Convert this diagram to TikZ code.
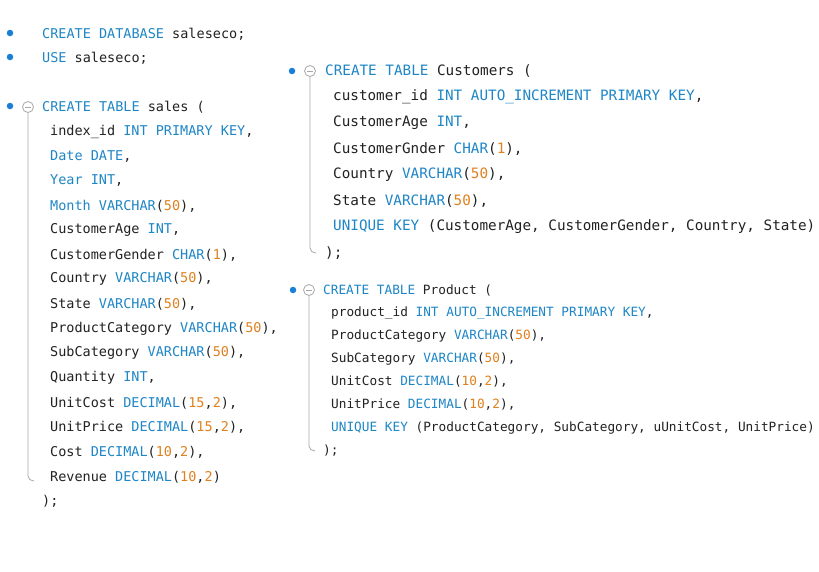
\documentclass[tikz,border=0pt]{standalone}
\usepackage{fontspec}
\setmonofont{DejaVu Sans Mono}
\definecolor{kw}{HTML}{1E86C6}
\definecolor{nm}{HTML}{E0801E}
\definecolor{tx}{HTML}{222222}
\definecolor{dot}{HTML}{1A7FD6}
\definecolor{fold}{HTML}{A8A8A8}
\newcommand{\kw}[1]{\textcolor{kw}{#1}}
\newcommand{\nm}[1]{\textcolor{nm}{#1}}
\begin{document}
\begin{tikzpicture}[x=1pt,y=-1pt,
  ln/.style={anchor=west,inner sep=0pt,text=tx,font=\ttfamily},
  sa/.style={ln,font=\ttfamily\fontsize{13.5}{14}\selectfont},
  cu/.style={ln,font=\ttfamily\fontsize{14.3}{15}\selectfont},
  pr/.style={ln,font=\ttfamily\fontsize{12.75}{14}\selectfont},
  bp/.style={circle,fill=dot,inner sep=0pt,minimum size=6.5pt},
  fi/.style={circle,draw=fold,line width=0.8pt,inner sep=0pt,minimum size=11pt,
    path picture={\draw[fold,line width=0.8pt] ([xshift=-3pt]path picture bounding box.center)--([xshift=3pt]path picture bounding box.center);}},
  fl/.style={draw=fold,line width=0.8pt}]
\useasboundingbox[fill=white] (0,0) rectangle (819,571);
% header
\node[bp] (d1) at (10,33) {};
\node[bp] (d2) at (10,57) {};
\node[sa] (h1) at (42,34) {\kw{CREATE DATABASE} saleseco;};
\node[sa] (h2) at (42,58) {\kw{USE} saleseco;};
% sales
\node[bp] (d3) at (10,106) {};
\node[fi] (f3) at (28,107) {};
\node[sa] (s0) at (42,107) {\kw{CREATE TABLE} sales (};
\node[sa] (s1) at (50,132) {index\_id \kw{INT PRIMARY KEY},};
\node[sa] (s2) at (50,157) {\kw{Date DATE},};
\node[sa] (s3) at (50,181) {\kw{Year INT},};
\node[sa] (s4) at (50,206) {\kw{Month VARCHAR}(\nm{50}),};
\node[sa] (s5) at (50,230) {CustomerAge \kw{INT},};
\node[sa] (s6) at (50,255) {CustomerGender \kw{CHAR}(\nm{1}),};
\node[sa] (s7) at (50,279) {Country \kw{VARCHAR}(\nm{50}),};
\node[sa] (s8) at (50,304) {State \kw{VARCHAR}(\nm{50}),};
\node[sa] (s9) at (50,329) {ProductCategory \kw{VARCHAR}(\nm{50}),};
\node[sa] (s10) at (50,353) {SubCategory \kw{VARCHAR}(\nm{50}),};
\node[sa] (s11) at (50,378) {Quantity \kw{INT},};
\node[sa] (s12) at (50,403) {UnitCost \kw{DECIMAL}(\nm{15},\nm{2}),};
\node[sa] (s13) at (50,427) {UnitPrice \kw{DECIMAL}(\nm{15},\nm{2}),};
\node[sa] (s14) at (50,452) {Cost \kw{DECIMAL}(\nm{10},\nm{2}),};
\node[sa] (s15) at (50,477) {Revenue \kw{DECIMAL}(\nm{10},\nm{2})};
\node[sa] (s16) at (42,501) {);};
\draw[fl] (f3.south) -- (28,476) to[out=-90,in=180] (34,481);
% customers
\node[bp] (d4) at (292,71) {};
\node[fi] (f4) at (310,71) {};
\node[cu] (c0) at (325,71) {\kw{CREATE TABLE} Customers (};
\node[cu] (c1) at (333,97) {customer\_id \kw{INT AUTO\_INCREMENT PRIMARY KEY},};
\node[cu] (c2) at (333,123) {CustomerAge \kw{INT},};
\node[cu] (c3) at (333,149) {CustomerGnder \kw{CHAR}(\nm{1}),};
\node[cu] (c4) at (333,175) {Country \kw{VARCHAR}(\nm{50}),};
\node[cu] (c5) at (333,201) {State \kw{VARCHAR}(\nm{50}),};
\node[cu] (c6) at (333,227) {\kw{UNIQUE KEY} (CustomerAge, CustomerGender, Country, State)};
\node[cu] (c7) at (325,253) {);};
\draw[fl] (f4.south) -- (310,248) to[out=-90,in=180] (316,253);
% product
\node[bp] (d5) at (293,290) {};
\node[fi] (f5) at (309,290) {};
\node[pr] (p0) at (323,290) {\kw{CREATE TABLE} Product (};
\node[pr] (p1) at (331,313) {product\_id \kw{INT AUTO\_INCREMENT PRIMARY KEY},};
\node[pr] (p2) at (331,336) {ProductCategory \kw{VARCHAR}(\nm{50}),};
\node[pr] (p3) at (331,359) {SubCategory \kw{VARCHAR}(\nm{50}),};
\node[pr] (p4) at (331,382) {UnitCost \kw{DECIMAL}(\nm{10},\nm{2}),};
\node[pr] (p5) at (331,405) {UnitPrice \kw{DECIMAL}(\nm{10},\nm{2}),};
\node[pr] (p6) at (331,428) {\kw{UNIQUE KEY} (ProductCategory, SubCategory, uUnitCost, UnitPrice)};
\node[pr] (p7) at (323,451) {);};
\draw[fl] (f5.south) -- (309,446) to[out=-90,in=180] (315,451);
\end{tikzpicture}
\end{document}
